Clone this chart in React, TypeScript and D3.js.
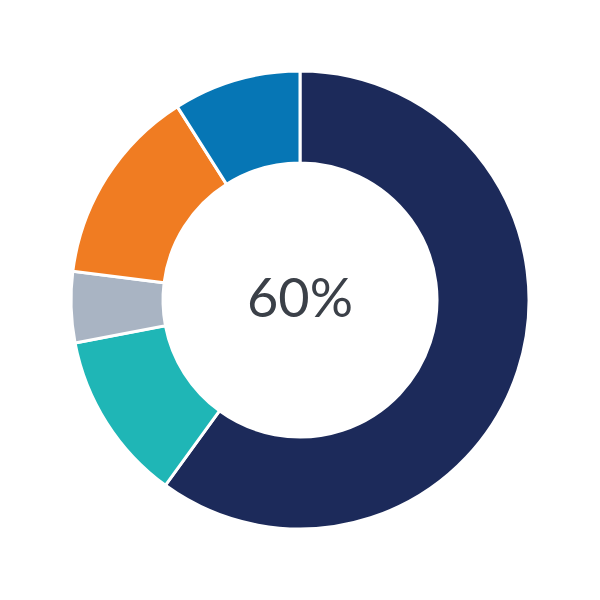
import * as d3 from "d3";

// slices clockwise from 12 o'clock
const labels = ["Main", "Teal", "Gray", "Orange", "Blue"];
const values = [60, 12, 5, 14, 9];
const colors = ["#1c2a5a", "#1fb6b6", "#a9b4c3", "#f07c22", "#0676b5"];
const centerLabel = "60%";

export default function App() {
  const width = 600;
  const height = 600;
  const cx = 300;
  const cy = 300;

  const pie = d3.pie<number>().sort(null).value(d => d);
  const arcs = pie(values);
  const arc = d3.arc<d3.PieArcDatum<number>>()
    .innerRadius(137)
    .outerRadius(229);

  return (
    <svg width={width} height={height}
      style={{ position: "absolute", left: 0, top: 0, background: "#fff" }}>
      <g transform={`translate(${cx},${cy})`}>
        {arcs.map((a, i) => (
          <path key={labels[i]} d={arc(a) || ""} fill={colors[i]}
            stroke="#fff" strokeWidth={3} strokeLinejoin="miter" />
        ))}
        <text x={0} y={-2} dy="0.35em" textAnchor="middle"
          fontFamily="Lato, 'Open Sans', sans-serif" fontSize={54}
          fill="#3b4048">
          {centerLabel}
        </text>
      </g>
    </svg>
  );
}
